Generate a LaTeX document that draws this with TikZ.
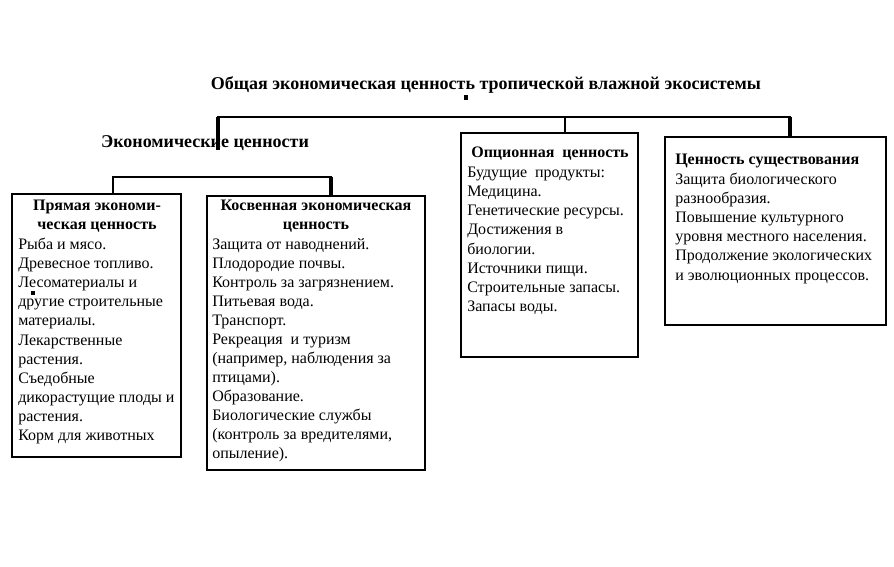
\documentclass[tikz,border=0pt]{standalone}
\usepackage{fontspec}
\setmainfont{Liberation Serif}
\begin{document}
\begin{tikzpicture}[x=0.75pt,y=-0.75pt,
  box/.style={draw,line width=1.6pt},
  conn/.style={line width=1.6pt},
  txt/.style={anchor=north west,align=left,inner sep=0pt,font=\fontsize{12}{14.3}\selectfont},
  head/.style={anchor=north,align=center,inner sep=0pt,font=\bfseries\fontsize{12}{14.3}\selectfont}]
\useasboundingbox (0,0) rectangle (894,567);
\draw[box] (12,194) rectangle (181,457);
\draw[box] (207,196) rectangle (425,470);
\draw[box] (461,133) rectangle (638,357);
\draw[box] (665,137) rectangle (886,325);
\node[font=\bfseries\fontsize{13.5}{15}\selectfont] (t) at (486,85) {Общая экономическая ценность тропической влажной экосистемы};
\fill (464,95) rectangle (468,100);
\fill (31,291) rectangle (35,295);
\coordinate (a) at (218,150); \coordinate (b) at (790,137); \coordinate (c) at (565,133);
\draw[conn] (a) -- (218,117) -- (790,117) -- (b);
\draw[line width=3pt] (218,117) -- (218,150);
\draw[line width=3pt] (790,117) -- (790,137);
\draw[conn] (565,117) -- (c);
\node[font=\bfseries\fontsize{13.5}{15}\selectfont] (e) at (205,143) {Экономические ценности};
\draw[conn] (113,194) -- (113,177) -- (331,177) -- (331,196);
\draw[line width=3pt] (331,177) -- (331,196);
\node[head] (h1) at (97,200) {Прямая экономи-\\ческая ценность};
\node[txt] (b1) at (18,238) {Рыба и мясо.\\Древесное топливо.\\Лесоматериалы и\\другие строительные\\материалы.\\Лекарственные\\растения.\\Съедобные\\дикорастущие плоды и\\растения.\\Корм для животных};
\node[head] (h2) at (316,200) {Косвенная экономическая\\ценность};
\node[txt] (b2) at (212,238) {Защита от наводнений.\\Плодородие почвы.\\Контроль за загрязнением.\\Питьевая вода.\\Транспорт.\\Рекреация \ и туризм\\(например, наблюдения за\\птицами).\\Образование.\\Биологические службы\\(контроль за вредителями,\\опыление).};
\node[head] (h3) at (550,147) {Опционная \ ценность};
\node[txt] (b3) at (467,167) {Будущие \ продукты:\\Медицина.\\Генетические ресурсы.\\Достижения в\\биологии.\\Источники пищи.\\Строительные запасы.\\Запасы воды.};
\node[head,anchor=north west] (h4) at (675,154) {Ценность существования};
\node[txt] (b4) at (675,173) {Защита биологического\\разнообразия.\\Повышение культурного\\уровня местного населения.\\Продолжение экологических\\и эволюционных процессов.};
\end{tikzpicture}
\end{document}
